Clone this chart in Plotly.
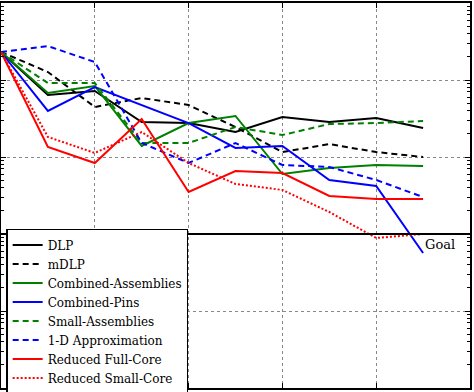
import plotly.graph_objects as go

iterations = [0, 1, 2, 3, 4, 5, 6, 7, 8, 9]

dlp = [2.31e-2, 6.39e-3, 7.20e-3, 2.85e-3, 2.76e-3, 2.11e-3, 3.31e-3, 2.85e-3, 3.21e-3, 2.38e-3]
mdlp = [2.31e-2, 1.27e-2, 4.46e-3, 5.84e-3, 4.73e-3, 2.45e-3, 1.16e-3, 1.47e-3, 1.16e-3, 1.00e-3]
combined_assemblies = [2.31e-2, 6.78e-3, 8.36e-3, 1.39e-3, 2.76e-3, 3.41e-3, 6.01e-4, 7.20e-4, 7.87e-4, 7.64e-4]
combined_pins = [2.31e-2, 3.96e-3, 8.11e-3, 4.73e-3, 2.76e-3, 1.31e-3, 1.39e-3, 5.03e-4, 4.20e-4, 5.67e-5]
small_assemblies = [2.31e-2, 9.14e-3, 9.14e-3, 1.52e-3, 1.52e-3, 2.45e-3, 1.93e-3, 2.68e-3, 2.76e-3, 2.93e-3]
one_d_approx = [2.31e-2, 2.76e-2, 1.71e-2, 1.52e-3, 8.36e-4, 1.52e-3, 7.87e-4, 7.42e-4, 5.03e-4, 3.02e-4]
reduced_full_core = [2.31e-2, 1.35e-3, 8.36e-4, 3.12e-3, 3.51e-4, 6.58e-4, 6.20e-4, 3.12e-4, 2.85e-4, 2.85e-4]
reduced_small_core = [2.31e-2, 1.82e-3, 1.13e-3, 2.11e-3, 8.36e-4, 4.46e-4, 3.73e-4, 1.93e-4, 8.87e-5, 1.00e-4]

goal_value = 1e-4
goal_label = "Goal"

series = [
    ("DLP", dlp, "black", "solid"),
    ("mDLP", mdlp, "black", "6px,4px"),
    ("Combined-Assemblies", combined_assemblies, "#008000", "solid"),
    ("Combined-Pins", combined_pins, "#0000ff", "solid"),
    ("Small-Assemblies", small_assemblies, "#008000", "6px,4px"),
    ("1-D Approximation", one_d_approx, "#0000ff", "6px,4px"),
    ("Reduced Full-Core", reduced_full_core, "#ff0000", "solid"),
    ("Reduced Small-Core", reduced_small_core, "#ff0000", "2px,2px"),
]

FONT = "DejaVu Serif"

fig = go.Figure()
for name, vals, color, dash in series:
    fig.add_trace(go.Scatter(
        x=iterations, y=vals, name=name, mode="lines",
        line=dict(color=color, width=2, dash=dash),
    ))

fig.add_shape(type="line", xref="paper", x0=0, x1=1, yref="y",
              y0=goal_value, y1=goal_value, line=dict(color="black", width=2))
fig.add_annotation(x=iterations[-1], y=-4.0, xref="x", yref="y", text=goal_label,
                   showarrow=False, xanchor="left", yanchor="top", yshift=-1,
                   font=dict(family=FONT, size=13, color="black"))

axis_common = dict(
    showline=True, linecolor="black", linewidth=1.5, mirror="ticks",
    ticks="inside", ticklen=5, tickcolor="black",
    showgrid=True, gridcolor="#888888", griddash="dot", gridwidth=1,
    zeroline=False, showticklabels=False,
)

fig.update_xaxes(range=[0, 10], dtick=2, **axis_common)
fig.update_yaxes(type="log", range=[-6, -1], dtick=1,
                 minor=dict(ticks="inside", ticklen=3, tickcolor="black", showgrid=False),
                 **axis_common)

fig.update_layout(
    width=474, height=392,
    margin=dict(l=1, r=4, t=3, b=4, autoexpand=False),
    paper_bgcolor="white", plot_bgcolor="white",
    font=dict(family=FONT, size=12, color="black"),
    legend=dict(
        x=0.011, y=0.413, xanchor="left", yanchor="top",
        bgcolor="white", bordercolor="black", borderwidth=1.5,
        font=dict(family=FONT, size=12),
        tracegroupgap=0,
    ),
    showlegend=True,
)

fig.write_html(
    "out.html",
    config={"displayModeBar": False},
    post_script="document.body.style.margin='0';document.body.style.overflow='hidden';",
)
